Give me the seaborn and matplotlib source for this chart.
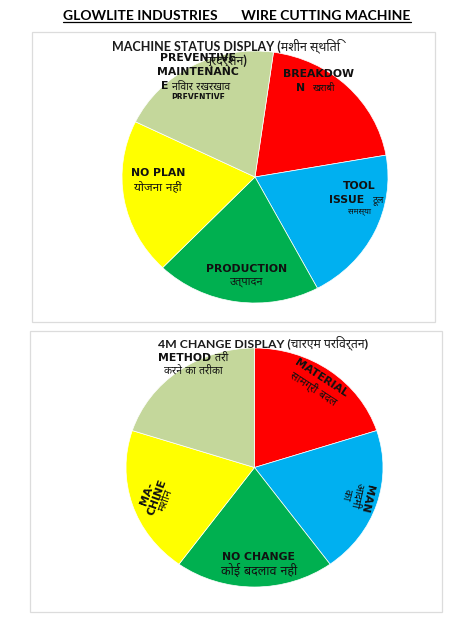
import seaborn as sns
import matplotlib.pyplot as plt
from matplotlib.patches import Rectangle
from matplotlib.lines import Line2D
from matplotlib.transforms import Bbox, TransformedBbox

sns.set_theme(style='white')
deva = ['Noto Sans Devanagari', 'FreeSans', 'Lohit Devanagari', 'Mangal']
plt.rcParams['font.family'] = ['DejaVu Sans'] + deva

W, H = 474, 632

# machine status pie (clockwise from top)
status_names = ['BREAKDOWN', 'TOOL ISSUE', 'PRODUCTION', 'NO PLAN', 'PREVENTIVE MAINTENANCE']
status_values = [20, 20, 20, 20, 20]
status_colors = ['#FF0000', '#00B0F0', '#00B050', '#FFFF00', '#C4D79B']

# 4M change pie (clockwise from top)
change_names = ['MATERIAL', 'MAN', 'NO CHANGE', 'MACHINE', 'METHOD']
change_values = [20, 20, 20, 20, 20]
change_colors = ['#FF0000', '#00B0F0', '#00B050', '#FFFF00', '#C4D79B']


def px(x, y):
    return x / W, 1 - y / H


def label(x, y, s, size=7.8, weight='bold', **kw):
    fx, fy = px(x, y)
    return fig.text(fx, fy, s, fontsize=size, fontweight=weight, color='#111111',
                    ha=kw.pop('ha', 'center'), va=kw.pop('va', 'center'), **kw)


fig = plt.figure(figsize=(W / 100, H / 100), dpi=100)
fig.patch.set_facecolor('white')

# chart frames
fig.add_artist(Rectangle(px(32, 322), 403 / W, 290 / H, transform=fig.transFigure,
                         fill=False, edgecolor='#dcdcdc', lw=0.9))
fig.add_artist(Rectangle(px(30, 612), 412 / W, 281 / H, transform=fig.transFigure,
                         fill=False, edgecolor='#dcdcdc', lw=0.9))

wedge_style = dict(edgecolor='white', linewidth=0.5)

ax1 = fig.add_axes([122 / W, 1 - 303 / H, 266 / W, 252 / H])
ax1.pie(status_values, colors=status_colors, startangle=82, counterclock=False,
        wedgeprops=wedge_style)
ax1.set_aspect('auto')
ax1.set_xlim(-1, 1)
ax1.set_ylim(-1, 1)
ax1.axis('off')

ax2 = fig.add_axes([126 / W, 1 - 587 / H, 257 / W, 239 / H])
ax2.pie(change_values, colors=change_colors, startangle=90, counterclock=False,
        wedgeprops=wedge_style)
ax2.set_aspect('auto')
ax2.set_xlim(-1, 1)
ax2.set_ylim(-1, 1)
ax2.axis('off')

# page title
title = fig.text(*px(237, 16), 'GLOWLITE INDUSTRIES       WIRE CUTTING MACHINE',
                 family=['Lato', 'DejaVu Sans'], fontsize=10, fontweight='bold',
                 color='#000000', ha='center', va='center')

# chart titles
fig.text(*px(226, 53), 'MACHINE STATUS DISPLAY (मशीन स्थिति\nप्रदर्शन)',
         family=['Lato'] + deva + ['DejaVu Sans'], fontsize=9, fontweight='bold',
         color='#1a1a1a', ha='center', va='center', linespacing=1.15)
fig.text(*px(263, 343), '4M CHANGE DISPLAY (चारएम परिवर्तन)',
         family=['Lato'] + deva + ['DejaVu Sans'], fontsize=8.8, fontweight='bold',
         color='#1a1a1a', ha='center', va='center')

# machine status labels
label(198, 58, 'PREVENTIVE')
label(198, 72, 'MAINTENANC')
label(168, 86, 'E', ha='right')
label(172, 86, 'निवार रखरखाव', size=7.5, weight='normal', ha='left')
t = label(198, 98, 'PREVENTIVE', size=5.5)
t.set_clip_on(True)
t.set_clip_box(TransformedBbox(Bbox.from_extents(0, 1 - 99 / H, 1, 1), fig.transFigure))

label(318, 74, 'BREAKDOW')
label(305, 88, 'N', ha='right')
label(313, 88, 'खराबी', size=7, weight='normal', ha='left')

label(359, 186, 'TOOL')
label(347, 200, 'ISSUE')
label(373, 200, 'टूल', size=7, weight='normal', ha='left')
label(359, 211, 'समस्या', size=6, weight='normal')

label(158, 173, 'NO PLAN')
label(158, 187, 'योजना नहीं', size=8.5, weight='normal')

label(247, 269, 'PRODUCTION')
label(247, 282, 'उत्पादन', size=8, weight='normal')

# 4M labels
label(193, 357, 'METHOD तरी')
label(193, 370, 'करने का तरीका', size=7.5, weight='normal')

label(317, 384, 'MATERIAL\nसामग्री बदल', rotation=-33, rotation_mode='anchor',
      linespacing=1.1)
label(357, 496, 'MAN\nआदमी\nका', rotation=-103, rotation_mode='anchor',
      linespacing=1.0)
label(157, 497, 'MA-\nCHINE\nमशीन', rotation=70, rotation_mode='anchor',
      linespacing=1.0)
label(258, 557, 'NO CHANGE')
label(259, 571, 'कोई बदलाव नहीं', size=9, weight='normal')

# underline for page title
fig.canvas.draw()
bb = title.get_window_extent()
uy = 1 - 22 / H
fig.add_artist(Line2D([bb.x0 / W, bb.x1 / W], [uy, uy], transform=fig.transFigure,
                      color='#000000', lw=0.9))

fig.savefig('out.png', dpi=100, facecolor='white')
